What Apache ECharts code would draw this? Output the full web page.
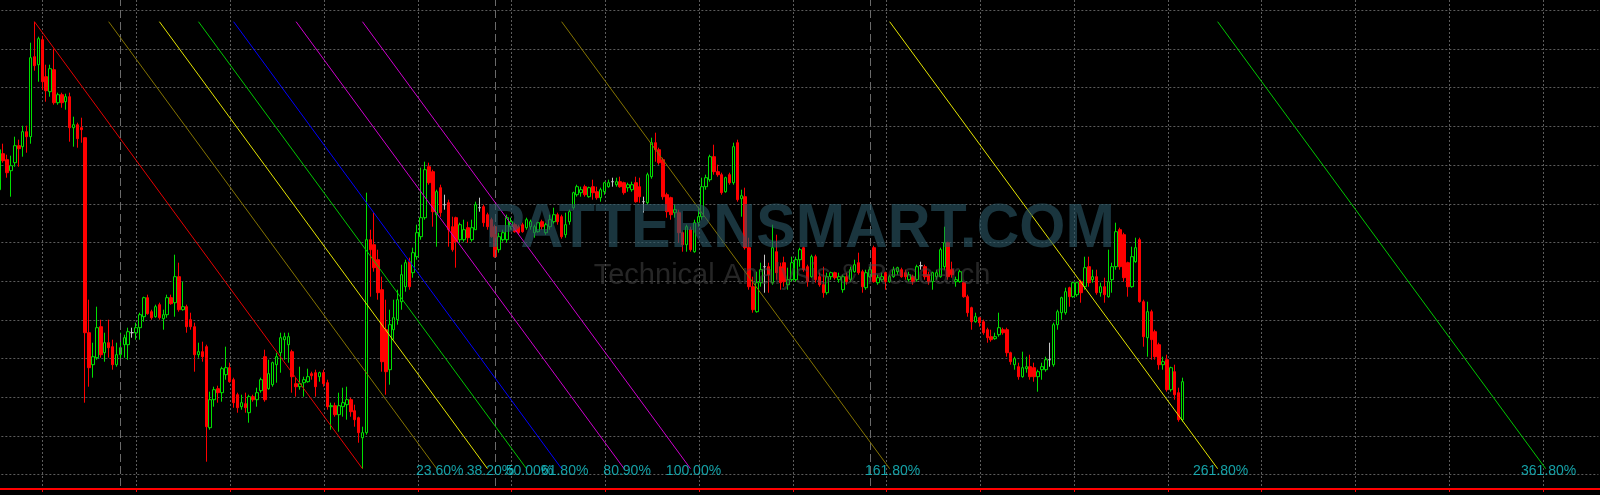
<!DOCTYPE html>
<html>
<head>
<meta charset="utf-8">
<script src="https://cdn.jsdelivr.net/npm/echarts@6/dist/echarts.min.js"></script>
<style>
html,body{margin:0;padding:0;background:#000;}
#chart{width:1600px;height:495px;}
</style>
</head>
<body>
<div id="chart"></div>
<script>
// ---- OHLC price data (one value per bar) ----
const opens = [
1446,1482,1476,1465,1473,1490,1489,1504,1499,1579,
1571,1596,1559,1544,1566,1533,1541,1534,1539,1508,
1511,1508,1498,1303,1271,1278,1309,1283,1293,1289,
1271,1281,1291,1291,1303,1303,1308,1319,1338,1324,
1319,1331,1317,1321,1338,1333,1359,1326,1329,1316,
1309,1281,1284,1289,1208,1236,1247,1243,1261,1268,
1256,1241,1229,1232,1223,1239,1236,1245,1279,1247,
1251,1271,1283,1296,1291,1284,1252,1249,1253,1254,
1262,1263,1259,1263,1253,1229,1230,1221,1229,1231,
1236,1225,1218,1198,1203,1396,1391,1376,1346,1306,
1266,1306,1316,1334,1349,1374,1363,1379,1399,1418,
1469,1464,1421,1448,1431,1433,1409,1418,1396,1396,
1408,1396,1406,1428,1429,1421,1416,1409,1386,1396,
1396,1409,1411,1409,1411,1408,1409,1403,1404,1414,
1403,1409,1414,1421,1419,1401,1414,1428,1441,1443,
1449,1439,1449,1444,1438,1444,1449,1454,1451,1454,
1453,1448,1446,1453,1449,1434,1433,1459,1493,1486,
1476,1441,1438,1423,1423,1403,1391,1406,1384,1413,
1419,1449,1456,1479,1464,1461,1444,1461,1453,1493,
1437,1439,1388,1349,1324,1353,1369,1369,1353,1384,
1369,1373,1351,1356,1356,1376,1388,1369,1359,1379,
1359,1351,1343,1359,1363,1356,1346,1359,1356,1364,
1373,1364,1348,1359,1388,1353,1356,1363,1354,1359,
1364,1366,1363,1356,1359,1356,1370,1369,1361,1354,
1359,1359,1369,1393,1366,1354,1354,1353,1339,1328,
1314,1318,1314,1306,1299,1297,1301,1306,1306,1283,
1271,1269,1259,1267,1269,1268,1259,1266,1266,1276,
1271,1311,1323,1323,1348,1339,1341,1354,1349,1369,
1356,1359,1343,1349,1339,1356,1369,1406,1401,1373,
1349,1374,1396,1334,1298,1324,1304,1291,1271,1276,
1246,1264,1243,1216
];
const closes = [
1486,1475,1463,1470,1490,1487,1504,1499,1578,1570,
1597,1554,1545,1567,1533,1541,1533,1539,1508,1511,
1497,1506,1303,1268,1279,1308,1281,1293,1288,1271,
1281,1288,1298,1304,1303,1308,1321,1338,1322,1318,
1329,1318,1321,1338,1332,1359,1326,1329,1309,1309,
1281,1284,1279,1209,1236,1246,1243,1267,1268,1254,
1233,1228,1233,1228,1239,1236,1243,1256,1236,1262,
1273,1279,1298,1299,1299,1259,1249,1252,1256,1259,
1260,1249,1263,1252,1229,1230,1221,1230,1233,1236,
1224,1216,1203,1203,1396,1386,1368,1343,1274,1264,
1311,1318,1336,1361,1373,1349,1383,1403,1418,1466,
1453,1424,1444,1423,1431,1406,1386,1394,1411,1406,
1398,1408,1431,1428,1413,1409,1399,1379,1399,1403,
1418,1414,1404,1403,1404,1416,1414,1409,1413,1409,
1411,1416,1421,1414,1399,1411,1424,1443,1449,1446,
1441,1448,1443,1438,1446,1453,1453,1454,1454,1449,
1443,1451,1451,1434,1439,1434,1461,1493,1486,1473,
1439,1424,1421,1426,1403,1391,1409,1386,1413,1419,
1449,1458,1479,1464,1461,1443,1458,1453,1489,1436,
1440,1388,1349,1326,1353,1366,1369,1361,1388,1363,
1353,1354,1356,1373,1376,1386,1366,1354,1379,1356,
1351,1343,1359,1363,1358,1359,1359,1354,1366,1371,
1363,1349,1363,1366,1354,1358,1359,1354,1359,1366,
1368,1359,1359,1361,1354,1369,1370,1359,1354,1363,
1363,1386,1393,1359,1361,1356,1364,1339,1323,1314,
1319,1313,1303,1298,1296,1299,1308,1303,1283,1274,
1277,1259,1268,1269,1259,1259,1264,1269,1276,1276,
1311,1324,1338,1344,1339,1353,1353,1343,1368,1353,
1359,1343,1349,1341,1354,1369,1404,1369,1358,1349,
1379,1388,1334,1299,1324,1296,1279,1271,1274,1246,
1268,1241,1216,1254
];
const lows = [
1436,1473,1458,1439,1469,1469,1479,1483,1492,1565,
1554,1546,1534,1539,1531,1531,1528,1526,1494,1489,
1488,1493,1233,1249,1258,1276,1278,1274,1278,1266,
1269,1274,1278,1276,1298,1296,1296,1314,1321,1316,
1318,1316,1306,1318,1331,1319,1324,1325,1303,1306,
1264,1278,1274,1174,1206,1229,1233,1234,1256,1253,
1228,1223,1226,1223,1213,1234,1229,1243,1234,1246,
1249,1253,1263,1276,1273,1243,1239,1246,1239,1253,
1256,1239,1254,1249,1226,1206,1219,1204,1219,1216,
1219,1209,1193,1167,1201,1339,1364,1336,1264,1241,
1251,1296,1311,1326,1344,1346,1358,1376,1396,1416,
1451,1409,1389,1419,1426,1389,1384,1368,1393,1394,
1393,1394,1406,1424,1409,1406,1398,1378,1383,1394,
1393,1406,1403,1401,1403,1406,1406,1398,1403,1406,
1401,1406,1412,1411,1397,1398,1411,1426,1439,1439,
1439,1438,1436,1436,1434,1441,1448,1449,1449,1448,
1441,1444,1444,1433,1433,1423,1431,1457,1474,1471,
1436,1418,1416,1418,1393,1384,1384,1384,1383,1409,
1416,1446,1454,1461,1459,1441,1443,1451,1451,1434,
1419,1386,1346,1323,1323,1349,1343,1343,1351,1356,
1346,1349,1346,1354,1354,1369,1364,1349,1358,1353,
1349,1338,1341,1356,1356,1353,1343,1351,1354,1363,
1361,1343,1346,1358,1353,1351,1354,1346,1353,1358,
1361,1358,1356,1354,1351,1354,1366,1356,1351,1346,
1356,1358,1366,1356,1358,1349,1353,1338,1319,1306,
1313,1309,1301,1293,1294,1296,1299,1301,1279,1271,
1266,1256,1258,1263,1256,1254,1244,1256,1264,1269,
1269,1306,1316,1321,1329,1338,1339,1333,1346,1349,
1353,1341,1339,1333,1338,1343,1366,1366,1354,1339,
1348,1373,1333,1289,1279,1276,1276,1266,1266,1244,
1244,1236,1214,1214
];
const highs = [
1496,1492,1481,1480,1499,1496,1510,1510,1593,1614,
1599,1600,1571,1571,1587,1543,1543,1542,1543,1519,
1513,1518,1498,1336,1293,1329,1316,1303,1316,1296,
1293,1303,1301,1308,1308,1313,1323,1339,1341,1326,
1331,1333,1326,1341,1341,1381,1373,1354,1331,1323,
1313,1293,1294,1291,1244,1249,1250,1269,1289,1273,
1258,1243,1241,1243,1241,1241,1248,1258,1286,1276,
1274,1283,1303,1303,1303,1286,1258,1269,1259,1267,
1264,1266,1264,1266,1256,1233,1233,1243,1248,1249,
1238,1231,1219,1209,1443,1406,1423,1386,1359,1336,
1326,1336,1346,1371,1376,1378,1388,1411,1468,1474,
1473,1466,1446,1451,1441,1436,1419,1419,1413,1416,
1414,1416,1434,1438,1431,1423,1418,1411,1403,1406,
1421,1418,1413,1411,1413,1418,1416,1411,1414,1416,
1413,1421,1428,1423,1421,1423,1426,1444,1451,1449,
1451,1449,1456,1449,1448,1454,1456,1458,1458,1459,
1454,1453,1454,1459,1458,1439,1463,1498,1503,1488,
1478,1443,1439,1431,1426,1404,1411,1409,1416,1429,
1458,1461,1481,1491,1471,1463,1459,1463,1493,1496,
1446,1448,1398,1359,1364,1373,1381,1373,1411,1401,
1373,1379,1368,1379,1379,1388,1389,1371,1381,1381,
1363,1369,1363,1364,1364,1363,1361,1363,1369,1376,
1383,1366,1366,1369,1390,1361,1363,1364,1361,1369,
1369,1368,1366,1364,1361,1371,1374,1371,1364,1364,
1366,1388,1409,1394,1374,1359,1366,1354,1341,1329,
1323,1319,1316,1308,1306,1303,1323,1308,1308,1284,
1279,1273,1284,1279,1281,1273,1266,1273,1279,1293,
1313,1326,1339,1348,1349,1354,1354,1356,1379,1379,
1366,1366,1353,1358,1386,1373,1413,1408,1403,1374,
1389,1398,1398,1336,1334,1326,1306,1293,1279,1281,
1269,1271,1248,1258
];

// ---- Fibonacci tool: anchored on swing high bar and swing low bar ----
const fibHighBar = 9;
const fibLowBar = 93;
const fibLevels = [0.236, 0.382, 0.5, 0.618, 0.809, 1, 1.618, 2.618, 3.618];
// session separators (bar indices)
const separatorBars = [31, 127, 223];
// total slots on the time axis (data + empty future bars)
const slotCount = 410;

// ---- styles ----
const fibColors = ['#857400', '#e6e600', '#00c800', '#0000ff', '#d000d0', '#d000d0', '#857400', '#e6e600', '#00c800'];
const baseColor = '#e60000';
const gridColor = '#5c5c5c';

const categories = Array.from({length: slotCount}, (_, i) => String(i));
const candles = opens.map((o, i) => [o, closes[i], lows[i], highs[i]]);

const span = fibLowBar - fibHighBar;
const hiP = highs[fibHighBar];
const loP = lows[fibLowBar];

const lineSeries = [];
lineSeries.push({
  type: 'line', xAxisIndex: 1, yAxisIndex: 0, symbol: 'none', silent: true, z: 5,
  lineStyle: {color: baseColor, width: 1},
  data: [[fibHighBar, hiP], [fibLowBar, loP]]
});
const labelData = [];
fibLevels.forEach((lv, j) => {
  const off = Math.floor(lv * span + 1e-9);
  lineSeries.push({
    type: 'line', xAxisIndex: 1, yAxisIndex: 0, symbol: 'none', silent: true, z: 5,
    lineStyle: {color: fibColors[j], width: 1},
    data: [[fibHighBar + off, hiP], [fibLowBar + off, loP]]
  });
  labelData.push([fibLowBar + off, loP, (lv * 100).toFixed(2) + '%']);
});

const chart = echarts.init(document.getElementById('chart'), null, {renderer: 'canvas'});
chart.setOption({
  backgroundColor: '#000000',
  animation: false,
  grid: [
    {left: -2.65, width: 1601.05, top: 10.3, height: 464.4, outerBoundsMode: 'none', containLabel: false},
    {left: -51.07, width: 1687.86, top: 0, height: 489, outerBoundsMode: 'none', containLabel: false},
    {left: -2.65, width: 1601.05, top: 0, height: 486, outerBoundsMode: 'none', containLabel: false}
  ],
  xAxis: [
    {type: 'category', gridIndex: 0, data: categories, boundaryGap: true, show: false},
    {type: 'value', gridIndex: 0, min: -0.5, max: 409.5, show: false},
    {type: 'value', gridIndex: 1, min: 0, max: 18, interval: 1,
      axisLine: {show: true, onZero: false, lineStyle: {color: '#ff0000', width: 2}},
      axisTick: {show: true, length: 3, lineStyle: {color: '#ff0000', width: 1}},
      axisLabel: {show: false},
      splitLine: {show: true, lineStyle: {color: gridColor, width: 1, type: [2, 2]}}},
    {type: 'value', gridIndex: 2, min: -0.5, max: 409.5, show: false}
  ],
  yAxis: [
    {type: 'value', gridIndex: 0, min: 1161, max: 1625.4, interval: 38.7,
      axisLine: {show: false}, axisTick: {show: false}, axisLabel: {show: false},
      splitLine: {show: true, lineStyle: {color: gridColor, width: 1, type: [2, 2]}}},
    {type: 'value', gridIndex: 1, min: 0, max: 1, show: false},
    {type: 'value', gridIndex: 2, min: 0, max: 1, show: false}
  ],
  graphic: [
    {type: 'text', z: 100, x: 800, y: 229.5, scaleX: 0.94, silent: true,
      style: {text: 'PATTERNSMART.COM', font: 'bold 63px "Liberation Sans", Arial, sans-serif',
        fill: 'rgba(44,88,104,0.6)', align: 'center', verticalAlign: 'middle'}},
    {type: 'text', z: 100, x: 792, y: 276, silent: true,
      style: {text: 'Technical Analysis & Research', font: '29px "Liberation Sans", Arial, sans-serif',
        fill: 'rgba(75,75,75,0.5)', align: 'center', verticalAlign: 'middle'}}
  ],
  series: [
    {type: 'line', xAxisIndex: 2, yAxisIndex: 1, data: [[0, 0]], silent: true, symbol: 'none',
      lineStyle: {opacity: 0}},
    {type: 'line', xAxisIndex: 3, yAxisIndex: 2, data: [[-0.5, 0]], silent: true, symbol: 'none',
      lineStyle: {opacity: 0},
      markLine: {silent: true, symbol: ['none', 'none'], label: {show: false},
        lineStyle: {color: '#6a6a6a', width: 1, type: [8, 4]},
        data: separatorBars.map(b => ({xAxis: b}))}},
    {type: 'candlestick', xAxisIndex: 0, yAxisIndex: 0, barWidth: 3, z: 3,
      emphasis: {disabled: true},
      itemStyle: {color: '#000000', color0: '#ff0000', borderColor: '#00e000', borderColor0: '#ff0000',
        borderColorDoji: '#c8c8c8', borderWidth: 1},
      data: candles},
    ...lineSeries,
    {type: 'scatter', xAxisIndex: 1, yAxisIndex: 0, symbol: 'circle', symbolSize: 1, silent: true, z: 10,
      itemStyle: {color: 'rgba(0,0,0,0)'},
      label: {show: true, position: 'inside', offset: [3, 2], formatter: p => p.value[2],
        color: '#19c8d0', fontSize: 14, fontFamily: '"Liberation Sans", Arial, sans-serif'},
      data: labelData}
  ]
});
</script>
</body>
</html>
